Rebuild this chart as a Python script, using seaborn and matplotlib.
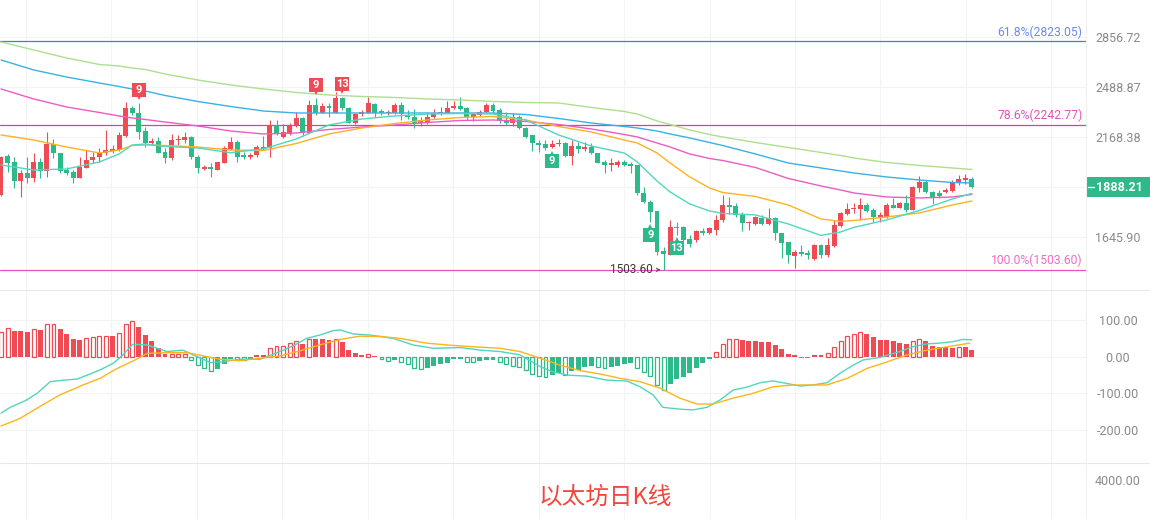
import numpy as np
import matplotlib
matplotlib.use('Agg')
import matplotlib.pyplot as plt
import matplotlib.transforms as mtransforms
from matplotlib.patches import Rectangle
from matplotlib.lines import Line2D
from matplotlib.ticker import NullLocator
import seaborn as sns

# ---------------- data ----------------
opens = [1848,2058,2024,1921,1964,1937,2024,1975,2127,2075,
         1980,1969,1937,1991,2035,2052,2075,2086,2092,2175,
         2349,2317,2205,2133,2145,2081,2047,2151,2151,2169,
         2052,1986,1997,1980,2019,2098,2139,2064,2052,2064,
         2110,2104,2241,2169,2187,2241,2285,2193,2369,2317,
         2362,2317,2415,2349,2254,2310,2317,2375,2330,2317,
         2317,2369,2304,2291,2254,2254,2291,2317,2317,2349,
         2362,2349,2291,2304,2323,2369,2336,2273,2254,2291,
         2223,2181,2133,2127,2110,2127,2133,2058,2115,2098,
         2110,2075,2024,2008,2008,2024,2013,2008,1859,1813,
         1769,1584,1567,1692,1692,1637,1633,1674,1665,1678,
         1725,1798,1793,1754,1711,1706,1735,1706,1735,1665,
         1624,1562,1580,1575,1549,1611,1567,1606,1697,1754,
         1778,1778,1798,1773,1740,1740,1798,1783,1808,1773,
         1884,1916,1864,1858,1864,1869,1910,1926,1932]
highs = [2058,2069,2052,1980,2052,2075,2047,2199,2157,2075,
         1997,1980,2052,2092,2081,2104,2211,2121,2199,2388,
         2362,2382,2229,2163,2169,2104,2187,2181,2199,2175,
         2064,2008,2019,2024,2115,2169,2151,2081,2075,2121,
         2175,2273,2273,2248,2254,2323,2291,2401,2415,2382,
         2382,2455,2421,2356,2317,2336,2421,2382,2343,2336,
         2382,2388,2336,2343,2291,2323,2343,2356,2395,2395,
         2421,2356,2317,2336,2382,2382,2349,2323,2317,2304,
         2229,2181,2151,2151,2151,2157,2139,2151,2139,2139,
         2133,2075,2035,2047,2035,2035,2024,2008,1890,1823,
         1769,1602,1725,1716,1697,1656,1678,1688,1692,1749,
         1848,1838,1808,1764,1721,1744,1749,1783,1740,1665,
         1624,1588,1611,1588,1615,1615,1642,1725,1764,1808,
         1808,1833,1808,1783,1764,1808,1833,1813,1848,1895,
         1948,1926,1869,1874,1884,1926,1953,1958,1942]
lows = [1845,1969,1884,1838,1910,1916,1937,1942,2047,1964,
        1953,1910,1937,1991,2019,2024,2064,2075,2086,2169,
        2304,2157,2110,2121,2075,2019,2035,2121,2133,2041,
        1964,1980,1942,1980,2019,2092,2024,2041,2041,2052,
        2092,2052,2181,2163,2181,2229,2175,2193,2304,2317,
        2291,2317,2336,2254,2248,2298,2317,2291,2304,2304,
        2310,2273,2279,2223,2235,2248,2285,2304,2317,2343,
        2336,2273,2266,2298,2317,2317,2254,2241,2235,2217,
        2163,2086,2081,2092,2104,2115,2052,2008,2075,2086,
        2069,2019,1964,1975,1997,2002,1964,1848,1808,1716,
        1567,1503.6,1567,1656,1624,1602,1624,1656,1660,1656,
        1716,1754,1740,1674,1678,1702,1702,1702,1633,1554,
        1532,1511,1562,1549,1545,1554,1558,1602,1692,1749,
        1759,1725,1764,1716,1716,1735,1783,1783,1764,1773,
        1864,1859,1803,1833,1859,1864,1900,1905,1884]
closes = [2052,2019,1921,1964,1937,2024,1975,2127,2075,1975,
          1964,1937,1997,2035,2052,2075,2092,2098,2181,2349,
          2317,2199,2133,2145,2075,2047,2151,2157,2169,2052,
          1991,1997,1986,2024,2104,2139,2052,2052,2064,2110,
          2098,2241,2187,2199,2241,2285,2193,2369,2317,2362,
          2349,2415,2349,2254,2310,2323,2382,2317,2317,2323,
          2369,2310,2291,2254,2273,2291,2317,2323,2349,2362,
          2343,2291,2310,2323,2369,2330,2273,2254,2291,2223,
          2169,2133,2121,2104,2127,2133,2058,2115,2098,2110,
          2075,2019,2008,2019,2024,2008,2002,1859,1813,1764,
          1580,1571,1692,1688,1633,1615,1674,1665,1688,1725,
          1798,1788,1749,1711,1716,1740,1706,1735,1665,1619,
          1567,1580,1571,1567,1611,1567,1611,1702,1759,1778,
          1783,1798,1769,1740,1749,1798,1783,1808,1773,1890,
          1916,1864,1838,1843,1874,1910,1932,1937,1888.21]

# moving averages, sampled at these candle indices
ma_idx = [0,5,10,15,18,20,22,25,30,35,40,45,50,55,60,65,70,75,80,85,90,95,97,
          100,102,105,108,110,115,120,125,128,130,135,140,145,148]
ma_fast = [2007.6,1980.0,1985.6,2024.2,2069.3,2121.2,2127.1,2112.5,2103.8,2076.7,2098.0,
           2156.6,2241.4,2278.8,2297.8,2310.4,2313.6,2310.4,2272.5,2180.6,2115.4,2075.0,
           2024.2,1920.9,1863.6,1802.9,1768.6,1756.5,1749.3,1706.4,1653.2,1669.2,1690.1,
           1725.2,1771.0,1827.9,1856.0]
ma_mid = [2180.6,2150.6,2109.6,2075.0,2092.1,2118.3,2121.2,2118.3,2109.6,2092.1,2089.3,
          2130.0,2186.6,2223.0,2250.7,2272.5,2288.3,2294.6,2272.5,2232.2,2198.6,2150.6,
          2132.9,2075.0,2018.6,1942.3,1884.3,1861.0,1840.6,1798.0,1730.0,1718.1,1722.8,
          1739.6,1758.9,1798.0,1817.8]
ma_60 = [2475.3,2408.1,2355.6,2320.0,2297.8,2285.1,2275.7,2260.0,2235.3,2204.7,2186.6,
         2192.6,2213.9,2229.1,2241.4,2256.9,2269.4,2272.5,2263.1,2244.5,2216.9,2183.6,
         2168.6,2132.9,2109.6,2069.3,2043.8,2032.6,1993.8,1934.4,1894.7,1873.8,1858.5,
         1838.1,1833.0,1838.1,1850.9]
ma_120 = [2681.3,2608.5,2558.5,2516.5,2492.4,2475.3,2461.7,2431.4,2391.5,2358.8,2329.6,
          2316.8,2316.8,2316.8,2316.8,2316.8,2316.8,2316.8,2307.2,2282.0,2253.8,2232.2,
          2223.0,2204.7,2186.6,2162.6,2135.9,2118.3,2069.3,2018.6,1991.1,1974.6,1963.8,
          1942.3,1926.1,1913.0,1910.4]
ma_200 = [2817.6,2756.2,2696.1,2648.2,2637.3,2622.8,2611.9,2579.7,2537.4,2502.7,2475.3,
          2451.6,2434.7,2424.7,2418.1,2408.1,2401.4,2391.5,2385.0,2381.7,2352.4,2326.4,
          2310.4,2266.3,2244.5,2210.8,2183.6,2168.6,2135.9,2106.7,2077.9,2060.8,2046.6,
          2021.4,2004.9,1991.1,1982.8]

# Fibonacci levels
fib_levels = [2823.05, 2242.77, 1503.60]
fib_labels = ['61.8%(2823.05)', '78.6%(2242.77)', '100.0%(1503.60)']

# TD sequential marks
td_up_idx = [21, 48, 52]
td_up_txt = ['9', '9', '13']
td_dn_idx = [84, 99, 103]
td_dn_txt = ['9', '9', '13']
low_mark_idx = 101

# MACD
macd_hist = [66.5,77.4,70,70,66.5,74.6,72.7,88.2,89,75.5,
             61.9,48.2,45.5,50.1,52.8,56.4,57,56.5,63.7,88.2,
             97.3,80.1,59.1,42.8,24.5,6.5,7.4,7.8,8.2,-8.6,
             -22.7,-31.8,-39,-34.5,-19.9,-7.3,-9,-9.5,-9,4.5,
             4.5,22.7,29.2,30,36.4,42.8,33.7,48.2,48,47.3,
             45.5,48.2,40.9,18.2,9.1,4.5,7.4,1.8,-6.4,-11.8,
             -9,-15.4,-20.9,-31.8,-33.6,-31.8,-25.4,-19.9,-18.2,-7.3,
             -7.3,-13.6,-14,-11.8,-9,-8.5,-15.4,-20.9,-24.5,-29.1,
             -36.3,-48.2,-51.8,-54.5,-50,-45,-49,-38,-35,-27,
             -24.5,-29,-29.5,-29,-24.5,-21,-16.3,-31.8,-42.5,-52.7,
             -77.2,-90.8,-75.4,-61.8,-54.5,-45.4,-31.8,-18.2,-5.4,11.8,
             34.6,47.3,48,45.5,42.8,42.5,40,39.5,31.8,21,
             7.4,4.5,-4.5,-4.5,4.3,4.3,9.1,25.4,42.8,56.4,
             61.9,66.5,61.9,52.8,45.5,45,42.8,38.2,34.6,42.8,
             47.3,42.8,30,27.2,27,25,25.6,25.4,18.2]
dif_idx = [0,1.4,3.7,5.5,7.5,9.5,11.6,13.6,15.1,17.1,18.6,20.1,22.3,23.8,25.3,27.7,29.9,
           31.9,33.8,36.4,39.5,42.1,44.5,46.6,48.6,50.6,51.7,53.7,56.3,59.8,62.8,65.9,70,
           73,76.1,79.1,82.2,84.1,86.3,89.3,92.4,95.4,97.4,99.4,100.9,103.5,105.5,107.6,
           109.6,111.6,113.7,115.7,117.7,119.8,121.8,123.8,125.9,127.9,129.9,131.4,134,
           137,139,141.2,143.1,145.1,146.6,148]
dif_val = [-154,-138,-120,-100,-68,-64,-61,-47,-36,-18,5,34,32,23,14,18,0,-16,-14,-7,
           -7,11,29,50,59,71,73,62,59,50,32,23,25,18,14,5,-27,-41,-50,-53,-64,-66,-82,
           -104,-138,-143,-145,-138,-118,-91,-83,-71,-66,-73,-80,-77,-71,-45,-23,-9,-2,
           14,27,35,37,41,47,46]
dea_idx = [0,2.9,5.9,9,12.5,15.1,17.7,20.1,22.3,25.3,28.4,31.4,33.4,36.4,39.5,42.5,45.6,
           48.6,51.7,54.7,57.8,60.8,64.9,68,72,76.1,79.1,82.2,85.2,88.3,91.3,94.4,97.4,
           100.5,103.5,106.1,108.5,111.6,114.6,117.7,120.7,123.8,125.9,129,132,135.1,
           138.1,141.2,144.2,147.7]
dea_val = [-189,-168,-136,-104,-77,-59,-32,-12,9,11,11,0,-7,-11,-4,2,16,32,47,56,55,50,
           37,32,27,23,14,-4,-23,-38,-47,-59,-68,-86,-113,-129,-129,-113,-100,-82,-77,
           -77,-77,-59,-32,-14,5,18,27,37]

main_ticks = [2856.72, 2488.87, 2168.38, 1888.21, 1645.90]
main_tick_labels = ['2856.72', '2488.87', '2168.38', '', '1645.90']
macd_ticks = [100, 0, -100, -200]
macd_tick_labels = ['100.00', '0.00', '-100.00', '-200.00']
vol_ticks = [4000]
vol_tick_labels = ['4000.00']
title = '以太坊日K线'

# ---------------- style ----------------
sns.set_theme(style='white')
plt.rcParams['font.family'] = ['Roboto', 'Noto Sans CJK SC', 'DejaVu Sans']

UP = '#ef4b55'
DOWN = '#2db98a'
C_FAST, C_MID, C_60, C_120, C_200 = '#52d6bf', '#ffb21f', '#ec5cc4', '#3ab1e6', '#addf8f'
FIB_LINE = ['#4a76de', '#d63fb4', '#f050c2']
FIB_TEXT = ['#6c8ce6', '#e055b9', '#f06cc8']
GRID = '#f3f3f3'
SEP = '#e8e8e8'
AXC = '#8a8a8a'

W, H = 1150, 519
PLOT_R = 1086
DX = 6.56
X0, X1 = -1 / DX, (PLOT_R - 1) / DX

fig = plt.figure(figsize=(W / 100, H / 100), dpi=100)
fig.patch.set_facecolor('white')


def axrect(top, bottom):
    return [0, 1 - bottom / H, PLOT_R / W, (bottom - top) / H]


ax = fig.add_axes(axrect(0, 290))
ax2 = fig.add_axes(axrect(290, 463))
ax3 = fig.add_axes(axrect(463, 519))

grid_x = np.arange(3.77, X1, 13.03)
for a in (ax, ax2, ax3):
    a.set_facecolor('white')
    a.set_xlim(X0, X1)
    a.set_xticks(grid_x)
    a.tick_params(axis='x', length=0, labelbottom=False)
    a.grid(axis='x', color=GRID, lw=0.8)
    a.grid(axis='y', color=GRID, lw=0.8)
    for s in a.spines.values():
        s.set_visible(False)
    a.set_axisbelow(True)

# ---------------- candles ----------------
o = np.array(opens, float)
h = np.array(highs, float)
l = np.array(lows, float)
c = np.array(closes, float)
x = np.arange(len(o))
cols = np.where(c >= o, UP, DOWN)

ax.set_yscale('log')
ax.vlines(x, l, h, colors=cols, lw=0.8, zorder=3)
body_bot = np.minimum(o, c)
body_h = np.maximum(np.abs(c - o), 0.0028 * c)
ax.bar(x, body_h, bottom=body_bot, width=0.76, color=cols, linewidth=0, zorder=3)

for vals, col in [(ma_200, C_200), (ma_120, C_120), (ma_60, C_60), (ma_mid, C_MID), (ma_fast, C_FAST)]:
    sns.lineplot(x=ma_idx, y=vals, ax=ax, color=col, lw=1.0, estimator=None,
                 sort=False, legend=False, zorder=4)

for lv, lab, lc, tc in zip(fib_levels, fib_labels, FIB_LINE, FIB_TEXT):
    ax.axhline(lv, color=lc, lw=0.9, zorder=2)
    ax.annotate(lab, xy=(1.0, lv), xycoords=ax.get_yaxis_transform(),
                xytext=(-2.5, 1.8), textcoords='offset points', ha='right', va='bottom',
                color=tc, fontsize=8.7, zorder=5)

ax.set_ylim(1422.3, 3163.4)
ax.set_yticks(main_ticks, main_tick_labels)
ax.yaxis.set_minor_locator(NullLocator())
ax.yaxis.tick_right()
ax.tick_params(axis='y', length=0, pad=23, labelsize=9, labelcolor=AXC)
for t in ax.yaxis.get_major_ticks():
    t.label2.set_horizontalalignment('center')
ax.set_xlabel('')
ax.set_ylabel('')

# TD sequential labels
tr_up_box = mtransforms.offset_copy(ax.transData, fig=fig, x=0, y=9.5, units='points')
tr_up_ptr = mtransforms.offset_copy(ax.transData, fig=fig, x=0, y=4.0, units='points')
tr_dn_box = mtransforms.offset_copy(ax.transData, fig=fig, x=0, y=-9.5, units='points')
tr_dn_ptr = mtransforms.offset_copy(ax.transData, fig=fig, x=0, y=-4.0, units='points')
for i, t in zip(td_up_idx, td_up_txt):
    ax.plot([i], [h[i]], marker='v', ms=4.5, color=UP, mew=0, transform=tr_up_ptr, zorder=6)
    ax.plot([i], [h[i]], marker='s', ms=9.8, color=UP, mew=0, transform=tr_up_box, zorder=6)
    ax.text(i, h[i], t, transform=tr_up_box, ha='center', va='center', color='white',
            fontsize=8, fontweight='bold', zorder=7)
for i, t in zip(td_dn_idx, td_dn_txt):
    ax.plot([i], [l[i]], marker='^', ms=4.5, color=DOWN, mew=0, transform=tr_dn_ptr, zorder=6)
    ax.plot([i], [l[i]], marker='s', ms=9.8, color=DOWN, mew=0, transform=tr_dn_box, zorder=6)
    ax.text(i, l[i], t, transform=tr_dn_box, ha='center', va='center', color='white',
            fontsize=8, fontweight='bold', zorder=7)

ax.annotate(f'{l[low_mark_idx]:.2f}', xy=(low_mark_idx, l[low_mark_idx]),
            xytext=(-8, 0), textcoords='offset points', ha='right', va='center',
            color='#3a3a3a', fontsize=8.5, zorder=6,
            arrowprops=dict(arrowstyle='->', color='#555555', lw=0.7,
                            shrinkA=1, shrinkB=2, mutation_scale=6))

# ---------------- MACD ----------------
hist = np.array(macd_hist, float)
prev = np.concatenate([[0.0], hist[:-1]])
hollow = np.abs(hist) > np.abs(prev)
hcols = np.where(hist >= 0, UP, DOWN)
xh = np.arange(len(hist))
ax2.bar(xh[~hollow], hist[~hollow], width=0.76, color=hcols[~hollow], linewidth=0, zorder=3)
ax2.bar(xh[hollow], hist[hollow], width=0.6, facecolor='white',
        edgecolor=hcols[hollow], linewidth=0.9, zorder=3)
sns.lineplot(x=dif_idx, y=dif_val, ax=ax2, color='#4fd6bd', lw=1.0, estimator=None,
             sort=False, legend=False, zorder=4)
sns.lineplot(x=dea_idx, y=dea_val, ax=ax2, color='#ffb41a', lw=1.0, estimator=None,
             sort=False, legend=False, zorder=4)
ax2.set_ylim(-289.7, 181.8)
ax2.set_yticks(macd_ticks, macd_tick_labels)
ax2.yaxis.tick_right()
ax2.tick_params(axis='y', length=0, pad=23, labelsize=9, labelcolor=AXC)
for t in ax2.yaxis.get_major_ticks():
    t.label2.set_horizontalalignment('center')
ax2.set_xlabel('')
ax2.set_ylabel('')

# ---------------- bottom (volume) pane ----------------
ax3.set_ylim(0, 5744)
ax3.set_yticks(vol_ticks, vol_tick_labels)
ax3.yaxis.tick_right()
ax3.tick_params(axis='y', length=0, pad=23, labelsize=9, labelcolor=AXC)
ax3.grid(axis='y', visible=False)
for t in ax3.yaxis.get_major_ticks():
    t.label2.set_horizontalalignment('center')

# separators
for yy in (290, 463):
    fig.add_artist(Line2D([0, 1], [1 - yy / H] * 2, color=SEP, lw=0.8))
fig.add_artist(Line2D([PLOT_R / W] * 2, [0, 1], color='#f0f0f0', lw=0.8))

# current price tag
fig.canvas.draw()
ydisp = ax.transData.transform((0, c[-1]))[1]
tag_col = UP if c[-1] >= o[-1] else DOWN
fig.add_artist(Rectangle((PLOT_R / W, (ydisp - 10) / H), (W - PLOT_R) / W, 20 / H,
                         transform=fig.transFigure, color=tag_col, lw=0))
fig.add_artist(Line2D([(PLOT_R + 2) / W, (PLOT_R + 8) / W], [ydisp / H] * 2, color='white', lw=1))
fig.text(1119 / W, ydisp / H, f'{c[-1]:.2f}', ha='center', va='center', color='white',
         fontsize=9, fontweight='bold')

# title
fig.text(605 / W, 1 - 497 / H, title, ha='center', va='center', color='#f0463c',
         fontsize=17, family=['Noto Sans CJK SC', 'DejaVu Sans'])

fig.savefig('out.png', dpi=100, facecolor='white')
